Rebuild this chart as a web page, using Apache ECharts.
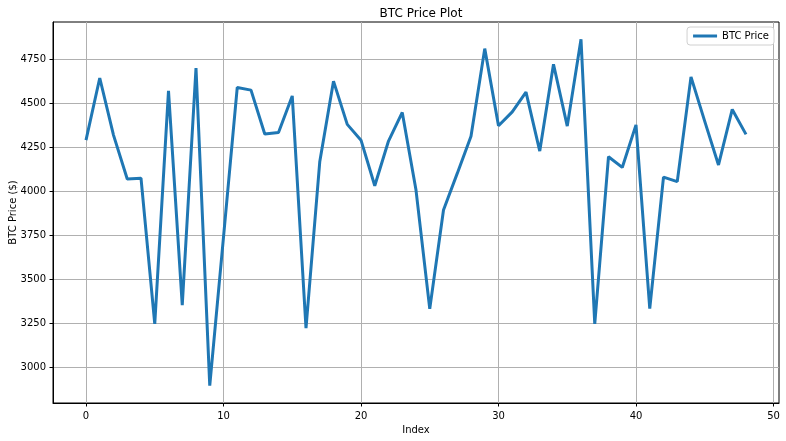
<!DOCTYPE html>
<html>
<head>
<meta charset="utf-8">
<script src="https://cdn.jsdelivr.net/npm/echarts@6/dist/echarts.min.js"></script>
<style>
html,body{margin:0;padding:0;background:#fff;}
#chart{width:786px;height:441px;}
</style>
</head>
<body>
<div id="chart"></div>
<script>
const seriesName = 'BTC Price';
const indices = [0,1,2,3,4,5,6,7,8,9,10,11,12,13,14,15,16,17,18,19,20,21,22,23,24,25,26,27,28,29,30,31,32,33,34,35,36,37,38,39,40,41,42,43,44,45,46,47,48];
const prices = [4291,4645,4320,4070,4075,3246,4572,3352,4702,2894,3740,4591,4576,4326,4335,4543,3221,4168,4627,4381,4291,4032,4286,4449,4007,3331,3894,4102,4314,4812,4373,4452,4565,4229,4723,4371,4865,3246,4197,4136,4378,3333,4081,4055,4651,4398,4150,4466,4324];
const xTicks = [0,10,20,30,40,50];
const yTicks = [3000,3250,3500,3750,4000,4250,4500,4750];

const font = 'DejaVu Sans';
const xMin = Math.min(...indices), xMax = Math.max(...indices);
const yMin = Math.min(...prices), yMax = Math.max(...prices);
const xPad = (xMax - xMin) * 0.05, yPad = (yMax - yMin) * 0.05;

const chart = echarts.init(document.getElementById('chart'), null, {renderer: 'canvas'});
chart.setOption({
  backgroundColor: '#fff',
  animation: false,
  title: {
    text: 'BTC Price Plot',
    left: 416, top: 3, textAlign: 'center',
    textStyle: {fontFamily: font, fontSize: 12, fontWeight: 'normal', color: '#000'}
  },
  legend: {
    data: [{name: seriesName, icon: 'rect'}],
    right: 12, top: 27,
    itemWidth: 24, itemHeight: 3, itemGap: 6,
    padding: [4, 5, 4, 6],
    borderColor: '#d0d0d0', borderWidth: 1, borderRadius: 3,
    backgroundColor: '#fff',
    textStyle: {fontFamily: font, fontSize: 10, color: '#000'}
  },
  grid: {
    left: 53, right: 7, top: 22, bottom: 38,
    show: true, borderColor: '#000', borderWidth: 1,
    containLabel: false, outerBoundsMode: 'none'
  },
  xAxis: {
    type: 'value',
    min: xMin - xPad, max: xMax + xPad,
    name: 'Index', nameLocation: 'middle', nameGap: 22, nameMoveOverlap: false,
    nameTextStyle: {fontFamily: font, fontSize: 10, color: '#000'},
    axisLine: {show: true, onZero: false, lineStyle: {color: '#000', width: 1}},
    axisTick: {show: true, length: 3.5, customValues: xTicks, lineStyle: {color: '#000'}},
    axisLabel: {customValues: xTicks, fontFamily: font, fontSize: 10, color: '#000', margin: 8,
      formatter: v => String(v)},
    splitLine: {show: true, lineStyle: {color: '#b0b0b0', width: 1}}
  },
  yAxis: {
    type: 'value',
    min: yMin - yPad, max: yMax + yPad,
    name: 'BTC Price ($)', nameLocation: 'middle', nameGap: 35, nameRotate: 90, nameMoveOverlap: false,
    nameTextStyle: {fontFamily: font, fontSize: 10, color: '#000'},
    axisLine: {show: true, onZero: false, lineStyle: {color: '#000', width: 1}},
    axisTick: {show: true, length: 3.5, customValues: yTicks, lineStyle: {color: '#000'}},
    axisLabel: {customValues: yTicks, fontFamily: font, fontSize: 10, color: '#000', margin: 7,
      formatter: v => String(v)},
    splitLine: {show: true, lineStyle: {color: '#b0b0b0', width: 1}}
  },
  series: [{
    name: seriesName,
    type: 'line',
    data: indices.map((x, i) => [x, prices[i]]),
    symbol: 'none',
    color: '#1f77b4',
    lineStyle: {width: 3, color: '#1f77b4'}
  }]
});
</script>
</body>
</html>
